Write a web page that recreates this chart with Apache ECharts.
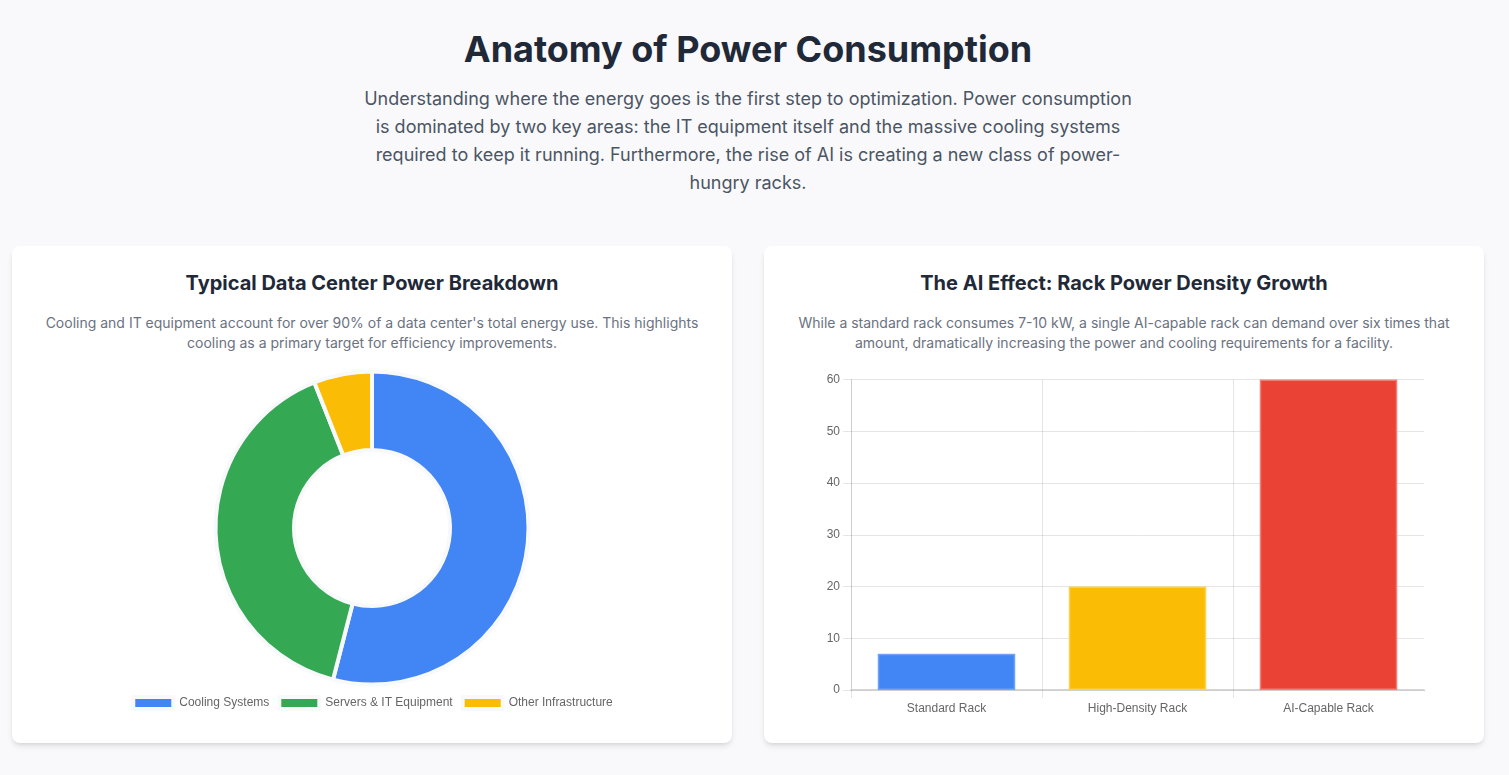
<!DOCTYPE html>
<html>
<head>
<meta charset="utf-8">
<title>Anatomy of Power Consumption</title>
<script src="https://cdn.jsdelivr.net/npm/echarts@6/dist/echarts.min.js"></script>
<style>
html, body { margin: 0; padding: 0; background: #f9f9fb; overflow: hidden; }
body { font-family: Inter, sans-serif; width: 1496px; height: 775px; position: relative; }
h1 { margin: 0; position: absolute; top: 27px; left: 0; width: 100%; text-align: center; font-size: 36px; line-height: 44px; font-weight: 700; color: #1f2937; }
.intro { margin: 0; position: absolute; top: 85px; left: 364px; width: 768px; text-align: center; font-size: 18px; line-height: 28px; color: #4b5563; }
.card { position: absolute; top: 246px; width: 720px; height: 497px; background: #fff; border-radius: 8px; box-shadow: 0 4px 6px -1px rgba(0,0,0,0.1), 0 2px 4px -2px rgba(0,0,0,0.1); }
#card0 { left: 12px; }
#card1 { left: 764px; }
.card h2 { margin: 0; position: absolute; top: 23px; left: 0; width: 100%; text-align: center; font-size: 20px; line-height: 28px; font-weight: 700; color: #1f2937; }
.card p { margin: 0; position: absolute; top: 67px; left: 24px; width: 672px; text-align: center; font-size: 14px; line-height: 20px; color: #6b7280; }
.chart { position: absolute; top: 119px; left: 24px; width: 672px; height: 355px; }
</style>
</head>
<body>
<h1>Anatomy of Power Consumption</h1>
<p class="intro">Understanding where the energy goes is the first step to optimization. Power consumption is dominated by two key areas: the IT equipment itself and the massive cooling systems required to keep it running. Furthermore, the rise of AI is creating a new class of power-hungry racks.</p>
<div class="card" id="card0">
	<h2>Typical Data Center Power Breakdown</h2>
	<p>Cooling and IT equipment account for over 90% of a data center's total energy use. This highlights cooling as a primary target for efficiency improvements.</p>
	<div class="chart" id="main0"></div>
</div>
<div class="card" id="card1">
	<h2>The AI Effect: Rack Power Density Growth</h2>
	<p>While a standard rack consumes 7-10 kW, a single AI-capable rack can demand over six times that amount, dramatically increasing the power and cooling requirements for a facility.</p>
	<div class="chart" id="main1"></div>
</div>
<script>
var pieNames = ['Cooling Systems', 'Servers & IT Equipment', 'Other Infrastructure'];
var pieValues = [54, 40, 6];
var pieColors = ['#4285F4', '#34A853', '#FBBC05'];

var rackNames = ['Standard Rack', 'High-Density Rack', 'AI-Capable Rack'];
var rackValues = [7, 20, 60];
var rackColors = ['#4285F4', '#FBBC05', '#EA4335'];
var rackBorders = ['#6fa3f7', '#fcd050', '#f27d75'];

var labelFont = '"Liberation Sans", Arial, sans-serif';
var gridColor = 'rgba(0,0,0,0.1)';

var myChart0 = echarts.init(document.getElementById('main0'));
var option0 = {
	animation: false,
	legend: {
		top: 325,
		left: 'center',
		itemWidth: 40,
		itemHeight: 12,
		itemGap: 8,
		icon: 'rect',
		itemStyle: { borderColor: '#f8f9fa', borderWidth: 4 },
		textStyle: { fontFamily: labelFont, fontSize: 12, color: '#666', padding: [0, 0, 0, 1] },
		data: pieNames
	},
	series: [{
		type: 'pie',
		center: [336, 163],
		radius: [78, 156.5],
		startAngle: 90,
		label: { show: false },
		labelLine: { show: false },
		itemStyle: { borderColor: '#f8f9fa', borderWidth: 4 },
		data: pieNames.map(function (n, i) {
			return { name: n, value: pieValues[i], itemStyle: { color: pieColors[i] } };
		})
	}]
};
myChart0.setOption(option0);

var myChart1 = echarts.init(document.getElementById('main1'));
var option1 = {
	animation: false,
	grid: { left: 63, right: 36, top: 14.5, bottom: 30 },
	xAxis: {
		type: 'category',
		data: rackNames,
		axisLine: { lineStyle: { color: '#c8c8c8', width: 1.5 } },
		axisTick: { show: true, length: 8, lineStyle: { color: gridColor } },
		axisLabel: { fontFamily: labelFont, fontSize: 12, color: '#666', margin: 13 },
		splitLine: { show: true, showMaxLine: false, lineStyle: { color: gridColor } }
	},
	yAxis: {
		type: 'value',
		min: 0,
		max: 60,
		interval: 10,
		axisLine: { show: true, lineStyle: { color: gridColor } },
		axisTick: { show: true, length: 8, lineStyle: { color: gridColor } },
		axisLabel: { fontFamily: labelFont, fontSize: 12, color: '#666', margin: 11 },
		splitLine: { show: true, lineStyle: { color: gridColor } }
	},
	// the reference has no tick at the far right end of the x axis
	graphic: [{
		type: 'rect',
		z: 100,
		shape: { x: 634, y: 326.5, width: 4, height: 9 },
		style: { fill: '#fff' }
	}],
	series: [{
		type: 'bar',
		barWidth: '72%',
		data: rackValues.map(function (v, i) {
			return { value: v, itemStyle: { color: rackColors[i], borderColor: rackBorders[i], borderWidth: 1.5 } };
		})
	}]
};
myChart1.setOption(option1);
</script>
</body>
</html>
